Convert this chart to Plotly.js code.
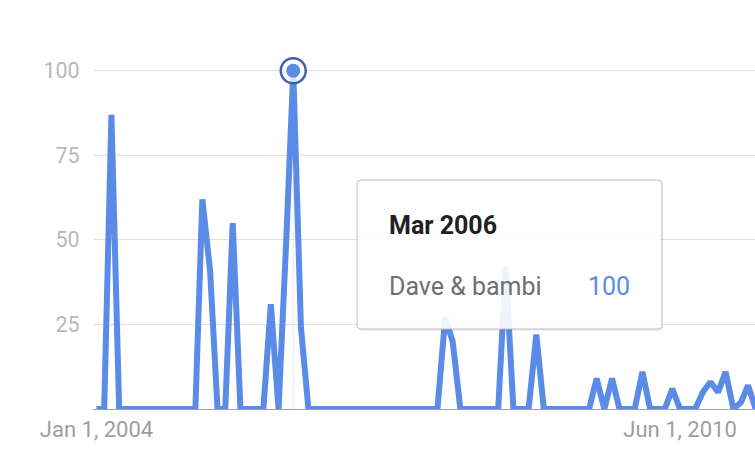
<!DOCTYPE html>
<html>
<head>
<meta charset="utf-8">
<script src="https://cdn.plot.ly/plotly-3.0.1.min.js"></script>
<style>
  html, body { margin: 0; padding: 0; background: #ffffff; }
  #chart { width: 755px; height: 457px; }
  path.js-line { stroke-linejoin: bevel !important; }
</style>
</head>
<body>
<div id="chart"></div>
<script>
// ---- Data (monthly search interest, Jan 2004 .. Apr 2011) ----
const seriesName = "Dave & bambi";
const startYear = 2004;
const values2004 = [0, 0, 87, 0, 0, 0, 0, 0, 0, 0, 0, 0];
const values2005 = [0, 0, 62, 41, 0, 0, 55, 0, 0, 0, 0, 31];
const values2006 = [0, 50, 100, 24, 0, 0, 0, 0, 0, 0, 0, 0];
const values2007 = [0, 0, 0, 0, 0, 0, 0, 0, 0, 0, 27, 20];
const values2008 = [0, 0, 0, 0, 0, 0, 42, 0, 0, 0, 22, 0];
const values2009 = [0, 0, 0, 0, 0, 0, 9, 0, 9, 0, 0, 0];
const values2010 = [11, 0, 0, 0, 6, 0, 0, 0, 5, 8, 5, 11];
const values2011 = [0, 2, 7, 0];
const yTickVals = [25, 50, 75, 100];
const xTickLabels = ["Jan 1, 2004", "Jun 1, 2010"];
const xTickDates = ["2004-01-01", "2010-06-01"];
const highlightIndex = 26; // Mar 2006 (hovered point)

const values = [].concat(values2004, values2005, values2006, values2007,
                         values2008, values2009, values2010, values2011);
const monthNames = ["Jan","Feb","Mar","Apr","May","Jun","Jul","Aug","Sep","Oct","Nov","Dec"];
const dates = values.map((v, i) => {
  const y = startYear + Math.floor(i / 12);
  const m = i % 12 + 1;
  return y + "-" + String(m).padStart(2, "0") + "-01";
});

// ---- Layout geometry ----
const L = 93, T = 37, R = 0, B = 48, FW = 755, FH = 457;
const PW = FW - L - R, PH = FH - T - B;
const px = x => (x - L) / PW;
const py = y => (T + PH - y) / PH;

const lineColor = "#5a8be7";
const font = "Roboto, 'Noto Sans', Arial, sans-serif";

function roundRect(x0, y0, x1, y1, r) {
  const a = px(x0), b = px(x1), top = py(y0), bot = py(y1);
  const rx = r / PW, ry = r / PH;
  return `M ${a + rx},${top} L ${b - rx},${top} Q ${b},${top} ${b},${top - ry} ` +
         `L ${b},${bot + ry} Q ${b},${bot} ${b - rx},${bot} ` +
         `L ${a + rx},${bot} Q ${a},${bot} ${a},${bot + ry} ` +
         `L ${a},${top - ry} Q ${a},${top} ${a + rx},${top} Z`;
}

const hlDate = dates[highlightIndex];
const hlVal = values[highlightIndex];
const hlParts = hlDate.split("-");
const hlLabel = monthNames[parseInt(hlParts[1], 10) - 1] + " " + hlParts[0];

const traces = [
  {
    x: dates, y: values, type: "scatter", mode: "lines",
    line: { color: lineColor, width: 6 },
    hoverinfo: "skip", showlegend: false
  },
  {
    x: [hlDate], y: [hlVal], type: "scatter", mode: "markers",
    marker: { size: 25, color: "rgba(255,255,255,0.75)", line: { color: "#4262a8", width: 2.5 } },
    cliponaxis: false, hoverinfo: "skip", showlegend: false
  },
  {
    x: [hlDate], y: [hlVal], type: "scatter", mode: "markers",
    marker: { size: 14, color: lineColor },
    cliponaxis: false, hoverinfo: "skip", showlegend: false
  }
];

const layout = {
  width: FW, height: FH,
  margin: { l: L, r: R, t: T, b: B, pad: 0 },
  paper_bgcolor: "#ffffff", plot_bgcolor: "#ffffff",
  showlegend: false,
  font: { family: font },
  xaxis: {
    type: "date",
    range: ["2003-12-18", "2011-03-29"],
    showgrid: false, zeroline: false,
    showline: true, linecolor: "#9e9e9e", linewidth: 1,
    tickvals: xTickDates, ticktext: xTickLabels,
    ticks: "outside", ticklen: 1, tickcolor: "rgba(0,0,0,0)",
    tickfont: { family: font, size: 22, color: "#9e9e9e" },
    fixedrange: true
  },
  yaxis: {
    range: [0, 110],
    tickvals: yTickVals,
    showgrid: true, gridcolor: "#e0e0e0", gridwidth: 1,
    zeroline: false, showline: false,
    ticks: "outside", ticklen: 8, tickcolor: "rgba(0,0,0,0)",
    tickfont: { family: font, size: 21.5, color: "#b8b8b8" },
    fixedrange: true
  },
  shapes: [
    {
      type: "line", xref: "x", yref: "y",
      x0: hlDate, x1: hlDate, y0: 0, y1: hlVal,
      line: { color: "#e8e8e8", width: 1 }, layer: "below"
    },
    {
      type: "path", xref: "paper", yref: "paper",
      path: roundRect(358, 182, 663, 331, 4),
      fillcolor: "rgba(0,0,0,0.06)", line: { width: 0 }, layer: "above"
    },
    {
      type: "path", xref: "paper", yref: "paper",
      path: roundRect(357, 180, 662, 329, 4),
      fillcolor: "rgba(255,255,255,0.9)", line: { color: "#bdbdbd", width: 1 }, layer: "above"
    }
  ],
  annotations: [
    {
      xref: "paper", yref: "paper", x: px(387), y: py(225),
      xanchor: "left", yanchor: "middle", showarrow: false,
      text: "<b>" + hlLabel + "</b>",
      font: { family: font, size: 25, color: "#202124" }
    },
    {
      xref: "paper", yref: "paper", x: px(387), y: py(286),
      xanchor: "left", yanchor: "middle", showarrow: false,
      text: seriesName.replace("&", "&amp;"),
      font: { family: font, size: 25, color: "#6f6f6f" }
    },
    {
      xref: "paper", yref: "paper", x: px(632), y: py(286),
      xanchor: "right", yanchor: "middle", showarrow: false,
      text: String(hlVal),
      font: { family: font, size: 25, color: lineColor }
    }
  ]
};

Plotly.newPlot("chart", traces, layout, { displayModeBar: false, staticPlot: true });
</script>
</body>
</html>
